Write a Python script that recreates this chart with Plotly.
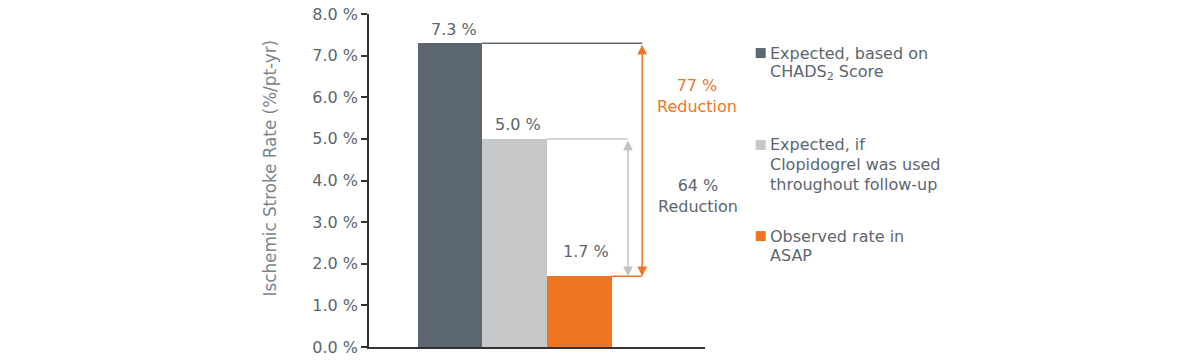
import plotly.graph_objects as go

categories = ["Expected, based on CHADS2 Score",
              "Expected, if Clopidogrel was used throughout follow-up",
              "Observed rate in ASAP"]
values = [7.3, 5.0, 1.7]
value_labels = ["7.3 %", "5.0 %", "1.7 %"]
colors = ["#5b6670", "#c6c7c9", "#ee7623"]
legend_lines = [["Expected, based on", "CHADS<sub>2</sub> Score"],
                ["Expected, if", "Clopidogrel was used", "throughout follow-up"],
                ["Observed rate in", "ASAP"]]
reductions = ["77 %<br>Reduction", "64 %<br>Reduction"]
tick_vals = [0, 1, 2, 3, 4, 5, 6, 7, 8]
tick_text = [f"{v:.1f} %" for v in tick_vals]
y_title = "Ischemic Stroke Rate (%/pt-yr)"

FONT = "DejaVu Sans"
TXT = "#5b6670"
xs = [0, 1, 2]

# page body has an 8px margin; work in screen pixels and convert
OFF = 8
FW, FH = 1200 - 2 * OFF, 361 - 2 * OFF
PL, PR, PT, PB = 369, 705, 14.3, 346.7   # plot area in screen px
L = PL - OFF
T = PT - OFF
R = FW - (PR - OFF)
B = FH - (PB - OFF)
W = PR - PL
H = PB - PT

def px(p):
    return (p - PL) / W

def py(p):
    return (PB - p) / H

fig = go.Figure()
fig.add_trace(go.Bar(x=xs, y=values, width=1, marker=dict(color=colors, line=dict(width=0)),
                     showlegend=False, hoverinfo="skip"))

annotations = []
label_dx = [4, 3, 6.5]
label_dy = [14, 14, 25]
for x, v, t, dx, dy in zip(xs, values, value_labels, label_dx, label_dy):
    annotations.append(dict(x=x, y=v, text=t, showarrow=False, xanchor="center", yanchor="middle",
                            xshift=dx, yshift=dy, font=dict(family=FONT, size=16, color=TXT)))

arrow_x_orange = 2.97
arrow_x_gray = 2.75
fig.add_shape(type="line", x0=0.5, x1=arrow_x_orange, y0=values[0], y1=values[0],
              line=dict(color=colors[0], width=1.5))
fig.add_shape(type="line", x0=1.5, x1=arrow_x_gray, y0=values[1], y1=values[1],
              line=dict(color=colors[1], width=1.5))
fig.add_shape(type="line", x0=2.5, x1=arrow_x_orange, y0=values[2], y1=values[2],
              line=dict(color=colors[2], width=1.5))

annotations.append(dict(x=arrow_x_orange, y=values[2], ax=arrow_x_orange, ay=values[0],
                        xref="x", yref="y", axref="x", ayref="y", text="", showarrow=True,
                        arrowhead=2, startarrowhead=2, arrowside="end+start", arrowsize=1.3,
                        startarrowsize=1.3, arrowwidth=1.5, arrowcolor=colors[2],
                        standoff=0, startstandoff=0))
annotations.append(dict(x=arrow_x_gray, y=values[2], ax=arrow_x_gray, ay=values[1],
                        xref="x", yref="y", axref="x", ayref="y", text="", showarrow=True,
                        arrowhead=2, startarrowhead=2, arrowside="end+start", arrowsize=1.3,
                        startarrowsize=1.3, arrowwidth=1.5, arrowcolor="#c0c1c3",
                        standoff=0, startstandoff=0))

annotations.append(dict(x=px(697), y=py(96.5), xref="paper", yref="paper", text=reductions[0],
                        xanchor="center", yanchor="middle",
                        showarrow=False, font=dict(family=FONT, size=16, color=colors[2])))
annotations.append(dict(x=px(698), y=py(195.5), xref="paper", yref="paper", text=reductions[1],
                        xanchor="center", yanchor="middle",
                        showarrow=False, font=dict(family=FONT, size=16, color=TXT)))

# y-axis title
annotations.append(dict(x=px(270), y=py(168.5), xref="paper", yref="paper", text=y_title,
                        textangle=-90, showarrow=False, xanchor="center", yanchor="middle",
                        font=dict(family=FONT, size=16.8, color="#7a848d")))

legend_tops = [53.3, 145, 236]
for i, (lines, top) in enumerate(zip(legend_lines, legend_tops)):
    fig.add_shape(type="rect", xref="paper", yref="paper",
                  x0=px(755.7), x1=px(765.7), y0=py(top - 5), y1=py(top + 5),
                  fillcolor=colors[i], line=dict(width=0))
    for j, line in enumerate(lines):
        annotations.append(dict(x=px(768), y=py(top + 19.5 * j), xref="paper", yref="paper",
                                text=line, showarrow=False, xanchor="left", yanchor="middle",
                                font=dict(family=FONT, size=16, color=TXT)))

fig.update_layout(
    width=FW, height=FH,
    margin=dict(l=L, r=R, t=T, b=B, autoexpand=False),
    plot_bgcolor="white", paper_bgcolor="white",
    bargap=0,
    annotations=annotations,
    xaxis=dict(range=[-1.25, 3.94], showticklabels=False, ticks="", showgrid=False,
               zeroline=False, showline=True, linecolor="#333", linewidth=1.5, fixedrange=True),
    yaxis=dict(range=[0, 8], tickvals=tick_vals, ticktext=tick_text, ticks="outside",
               ticklen=6, tickwidth=1.5, tickcolor="#333", showgrid=False, zeroline=False,
               showline=True, linecolor="#333", linewidth=1.5, ticklabeloverflow="allow",
               tickfont=dict(family=FONT, size=16, color=TXT)),
)

fig.write_html("out.html")
